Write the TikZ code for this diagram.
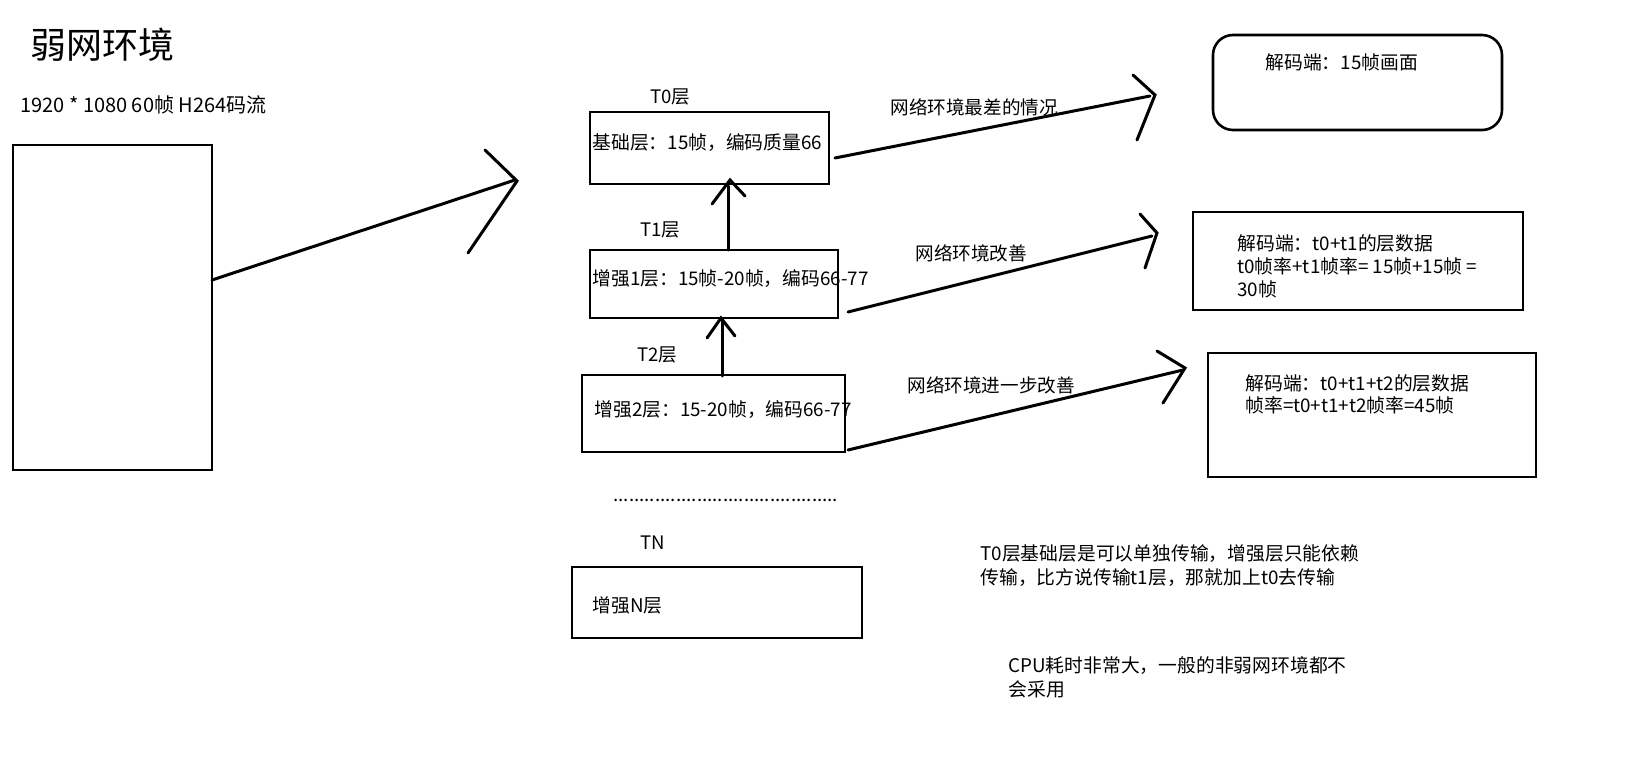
\documentclass[tikz,border=0pt]{standalone}
\usepackage{fontspec}
\newfontfamily\cjk{Noto Sans CJK SC}
\begin{document}
\begin{tikzpicture}[x=0.5pt,y=-0.5pt,
  box/.style={draw,line width=1.3pt},
  ln/.style={line width=1.5pt,line cap=round},
  txt/.style={anchor=west,inner sep=0pt,font=\cjk\fontsize{9.4}{9.4}\selectfont},
  lbl/.style={anchor=west,inner sep=0pt,font=\cjk\fontsize{9.3}{9.3}\selectfont}]
\useasboundingbox[fill=white] (0,0) rectangle (1635,765);
\node[anchor=west,inner sep=0pt,font=\cjk\fontsize{18}{18}\selectfont] (title) at (30,45) {弱网环境};
\node[txt,font=\cjk\fontsize{10}{10}\selectfont] (src) at (20,105) {1920 * 1080 60帧 H264码流};
\draw[box] (13,145) rectangle (212,470);
\coordinate (left) at (212,280);
% main arrow
\draw[ln] (left) -- (515,180);
\draw[ln] (485,150) -- (517,181) -- (468,253);
% layer boxes
\node[lbl] (t0l) at (650,97) {T0层};
\draw[box] (590,112) rectangle (829,184);
\node[txt] (b0t) at (592,143) {基础层：15帧，编码质量66};
\node[lbl] (t1l) at (640,230) {T1层};
\draw[box] (590,250) rectangle (838,318);
\node[txt] (b1t) at (592,279) {增强1层：15帧-20帧，编码66-77};
\node[lbl] (t2l) at (637,355) {T2层};
\draw[box] (582,375) rectangle (845,452);
\node[txt] (b2t) at (594,410) {增强2层：15-20帧，编码66-77};
\node[txt] (dots) at (613,500) {...........................................};
\node[lbl] (tnl) at (640,543) {TN};
\draw[box] (572,567) rectangle (862,638);
\node[txt] (bnt) at (592,605) {增强N层};
% up arrows
\draw[ln] (728,250) -- (728,186);
\draw[ln] (712,204) -- (730,180) -- (745,196);
\draw[ln] (722,376) -- (722,320);
\draw[ln] (707,338) -- (721,318) -- (735,336);
% right arrows
\draw[ln] (835,158) -- (1150,96);
\draw[ln] (1133,75) -- (1155,95) -- (1137,140);
\node[lbl] (l1) at (890,107) {网络环境最差的情况};
\draw[ln] (848,312) -- (1152,236);
\draw[ln] (1140,214) -- (1157,233) -- (1145,268);
\node[lbl] (l2) at (915,253) {网络环境改善};
\draw[ln] (848,450) -- (1183,370);
\draw[ln] (1157,351) -- (1185,368) -- (1163,403);
\node[lbl] (l3) at (907,385) {网络环境进一步改善};
% decoder boxes
\draw[box,rounded corners=10pt] (1213,35) rectangle (1502,130);
\node[txt] (d1) at (1265,62) {解码端：15帧画面};
\draw[box] (1193,212) rectangle (1523,310);
\node[txt] (d2a) at (1237,243) {解码端：t0+t1的层数据};
\node[txt] (d2b) at (1237,266) {t0帧率+t1帧率= 15帧+15帧 =};
\node[txt] (d2c) at (1237,289) {30帧};
\draw[box] (1208,353) rectangle (1536,477);
\node[txt] (d3a) at (1245,383) {解码端：t0+t1+t2的层数据};
\node[txt] (d3b) at (1245,405) {帧率=t0+t1+t2帧率=45帧};
% notes
\node[txt] (n1) at (980,554) {T0层基础层是可以单独传输，增强层只能依赖};
\node[txt] (n2) at (980,578) {传输，比方说传输t1层，那就加上t0去传输};
\node[txt] (n3) at (1008,666) {CPU耗时非常大，一般的非弱网环境都不};
\node[txt] (n4) at (1008,689) {会采用};
\end{tikzpicture}
\end{document}
